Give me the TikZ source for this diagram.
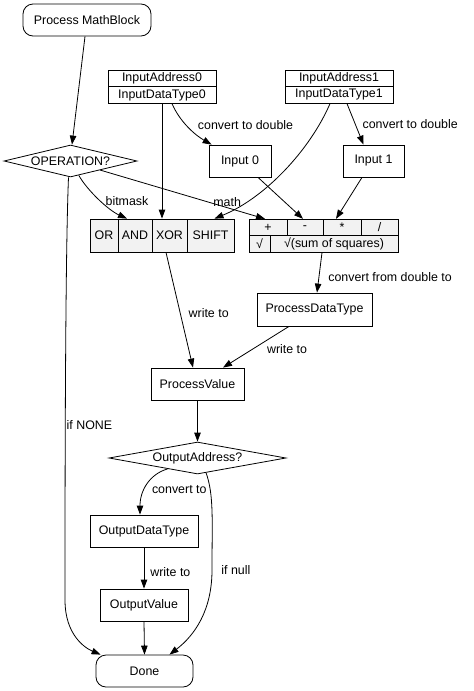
\documentclass[tikz,border=0pt]{standalone}
\usepackage{fontspec}
\setmainfont{Liberation Sans}
\usetikzlibrary{arrows.meta,positioning,shapes.geometric}

\begin{document}
\begin{tikzpicture}
  [
   x=1pt,y=-1pt,line width=0.8pt,
   font=\fontsize{12.4}{14}\selectfont,
   arr/.style={-{Triangle[length=9pt,width=6.5pt]}},
   term/.style={rectangle,rounded corners=10pt,draw=black,inner sep=0pt,minimum height=32pt},
   box/.style={rectangle,draw=black,inner sep=0pt,minimum height=32pt},
   cell/.style={rectangle,draw=black,fill=black!5,inner sep=0pt,minimum height=33pt},
   hcell/.style={rectangle,draw=black,fill=black!5,inner sep=0pt,minimum height=16.5pt},
   row/.style={rectangle,draw=black,inner sep=0pt,minimum height=16.5pt},
   dec/.style={diamond,draw=black,inner sep=0pt,minimum height=32pt},
   lbl/.style={inner sep=1pt}
  ]
   \useasboundingbox (0,0) rectangle (474,691);

   \node[term,minimum width=128pt] (pmb) at (87,20) {Process MathBlock};
   \node[dec,aspect=4.2,minimum width=133pt] (op) at (70.5,161) {OPERATION?};

   \node[row,minimum width=108pt] (addr0) at (162,78.5) {InputAddress0};
   \node[row,minimum width=108pt] (type0) at (162,95) {InputDataType0};
   \node[row,minimum width=108pt] (addr1) at (339,78.5) {InputAddress1};
   \node[row,minimum width=108pt] (type1) at (339,95) {InputDataType1};

   \node[box,minimum width=62pt] (in0) at (240,161) {Input 0};
   \node[box,minimum width=61pt] (in1) at (373.5,161) {Input 1};

   \node[cell,minimum width=28pt] (bor) at (104,235.5) {OR};
   \node[cell,minimum width=34pt] (band) at (135,235.5) {AND};
   \node[cell,minimum width=35pt] (bxor) at (169.5,235.5) {XOR};
   \node[cell,minimum width=47pt] (bshift) at (210.5,235.5) {SHIFT};

   \node[hcell,minimum width=38pt] (madd) at (268,227.5) {+};
   \node[hcell,minimum width=36pt] (msub) at (305,227.5) {-};
   \node[hcell,minimum width=38pt] (mmul) at (342,227.5) {*};
   \node[hcell,minimum width=37pt] (mdiv) at (379.5,227.5) {/};
   \node[hcell,minimum width=21pt] (msqrt) at (259.5,244) {√};
   \node[hcell,minimum width=128pt] (msumsq) at (334,244) {√(sum of squares)};

   \node[box,minimum width=115pt,minimum height=33pt] (pdt) at (314.5,309.5) {ProcessDataType};
   \node[box,minimum width=93pt] (pv) at (197.5,384) {ProcessValue};
   \node[dec,aspect=5.5,minimum width=177pt] (oa) at (197.5,458) {OutputAddress?};
   \node[box,minimum width=108pt] (odt) at (144,531) {OutputDataType};
   \node[box,minimum width=88pt] (ov) at (144,605) {OutputValue};
   \node[term,minimum width=97pt] (done) at (144.5,671) {Done};

   % top of the flow
   \draw[arr] ([xshift=-2pt]pmb.south) -- ([xshift=1.5pt]op.north);
   \draw[arr] ([xshift=-2pt]op.south) .. controls (65,260) and (65,520) .. (65,600)
      node[lbl,pos=0.57,right] {if NONE}
      .. controls (65,635) and (85,648) .. ([xshift=5pt]done.north west);
   \draw[arr] (op.-60) .. controls (87,190) and (108,210) .. ([xshift=-8pt]band.north)
      node[lbl,pos=1,above=12pt] {bitmask};
   \draw[arr] (op.-17) -- ([xshift=-3pt]madd.north) node[lbl,pos=0.77,above] {math};

   % inputs
   \draw[arr] (type0.south) -- ([xshift=-7.5pt]bxor.north);
   \draw[arr] ([xshift=10pt]type0.south) .. controls (180,122) and (195,135) .. ([xshift=3pt]in0.north west)
      node[lbl,pos=0.45,right=10pt] {convert to double};
   \draw[arr] ([xshift=-9pt]type1.south) .. controls (310,150) and (265,198) .. ([xshift=4pt]bshift.north);
   \draw[arr] ([xshift=8pt]type1.south) -- ([xshift=-10pt]in1.north)
      node[lbl,pos=0.5,right=6pt] {convert to double};
   \draw[arr] ([xshift=18pt]in0.south) -- ([xshift=-2pt]msub.north);
   \draw[arr] ([xshift=-11.5pt]in1.south) -- ([xshift=-6pt]mmul.north);

   % results
   \draw[arr] ([xshift=-12pt]msumsq.south) -- ([xshift=2.5pt]pdt.north)
      node[lbl,pos=0.6,right=8pt] {convert from double to};
   \draw[arr] ([xshift=-3.5pt]bxor.south) -- ([xshift=-4.5pt]pv.north)
      node[lbl,pos=0.53,right=7pt] {write to};
   \draw[arr] ([xshift=-25.5pt]pdt.south) -- ([xshift=25.5pt]pv.north)
      node[lbl,pos=0.55,right=13pt] {write to};
   \draw[arr] (pv.south) -- (oa.north);

   % output
   \draw[arr] (oa.-160) .. controls (150,474) and (140,490) .. ([xshift=-4pt]odt.north)
      node[lbl,pos=0.6,right=6pt] {convert to};
   \draw[arr] (oa.-60) .. controls (214,495) and (212,520) .. (212,570)
      node[lbl,right=8pt] {if null}
      .. controls (212,610) and (195,635) .. ([xshift=25pt]done.north);
   \draw[arr] (odt.south) -- (ov.north) node[lbl,pos=0.6,right=5pt] {write to};
   \draw[arr] (ov.south) -- (done.north);

\end{tikzpicture}
\end{document}
